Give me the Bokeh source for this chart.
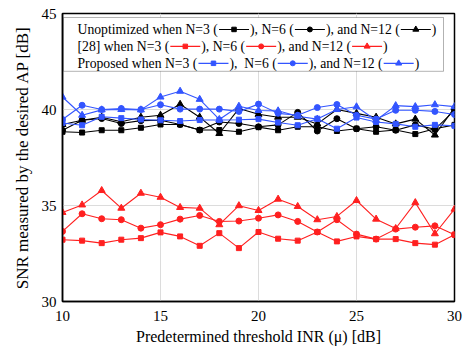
from bokeh.plotting import figure
from bokeh.models import Range1d, Label, BoxAnnotation, FixedTicker
from bokeh.embed import file_html
from bokeh.resources import INLINE

# ---------------- data ----------------
inr_db = list(range(10, 31))

unopt_n3 = [38.84, 38.80, 38.92, 38.92, 39.05, 39.22, 39.22, 38.93, 38.93, 38.84, 39.08,
            38.92, 39.10, 39.10, 38.88, 39.00, 38.84, 38.93, 38.72, 39.00, 39.20]
unopt_n6 = [38.92, 39.44, 39.53, 39.27, 39.42, 39.44, 39.22, 38.93, 39.35, 39.27, 39.10,
            39.20, 39.85, 38.88, 39.52, 39.00, 39.10, 38.92, 39.20, 38.97, 39.95]
unopt_n12 = [39.22, 39.44, 39.60, 39.36, 39.60, 39.70, 40.27, 39.60, 38.75, 40.05, 39.75,
             39.60, 39.60, 39.25, 40.00, 39.80, 39.60, 39.25, 39.50, 38.67, 40.10]

ref28_n3 = [33.22, 33.17, 33.04, 33.22, 33.30, 33.60, 33.39, 32.90, 33.56, 32.78, 33.62,
            33.27, 33.17, 33.62, 33.13, 33.39, 33.25, 33.25, 33.04, 32.96, 33.48]
ref28_n6 = [33.65, 34.57, 34.31, 34.26, 33.82, 34.00, 34.29, 34.48, 34.17, 34.19, 34.34,
            34.51, 34.17, 33.62, 34.26, 33.51, 33.25, 33.77, 33.87, 33.94, 33.48]
ref28_n12 = [34.64, 35.03, 35.78, 34.86, 35.64, 35.43, 34.90, 34.86, 34.00, 34.99, 34.74,
             35.33, 34.95, 34.26, 34.43, 35.26, 34.29, 33.80, 35.15, 33.53, 34.81]

prop_n3 = [39.30, 39.18, 39.62, 39.55, 39.48, 39.44, 39.40, 39.45, 39.45, 39.47, 39.50,
           39.32, 39.18, 39.52, 39.00, 39.58, 39.35, 39.25, 39.10, 39.20, 39.15]
prop_n6 = [39.48, 40.22, 40.00, 40.05, 40.00, 40.25, 40.02, 40.02, 40.02, 39.90, 40.28,
           39.80, 39.70, 40.10, 40.26, 39.70, 39.50, 39.96, 39.96, 39.90, 39.74]
prop_n12 = [40.65, 39.70, 39.98, 40.00, 39.98, 40.65, 40.95, 40.53, 39.48, 40.17, 39.95,
            39.93, 39.65, 39.50, 40.00, 40.14, 39.44, 40.20, 40.15, 40.25, 40.15]

x_ticks = [10, 15, 20, 25, 30]
y_ticks = [30, 35, 40, 45]

legend_rows = [
    ["Unoptimized when N=3 (", "), N=6 (", "), and N=12 (", ")"],
    ["[28] when N=3 (", "), N=6 (", "), and N=12 (", ")"],
    ["Proposed when N=3 (", "),\u00a0 N=6 (", "), and N=12 (", ")"],
]

BLACK = "#000000"
RED = "#ff2020"
BLUE = "#3355ff"
FONT = "Liberation Serif"

# ---------------- figure ----------------
W, H = 466, 347
ML, MR, MT, MB = 62, 12, 13, 45
X0, X1, Y0, Y1 = 10, 30, 30, 45
p = figure(width=W, height=H, output_backend="svg", toolbar_location=None,
           x_range=Range1d(X0, X1), y_range=Range1d(Y0, Y1),
           min_border_left=ML, min_border_right=MR, min_border_top=MT, min_border_bottom=MB)
p.background_fill_color = "white"
p.border_fill_color = "white"
p.outline_line_color = "black"
p.outline_line_width = 1.5
p.outline_line_alpha = 1.0

for ax in (p.xaxis[0], p.yaxis[0]):
    ax.axis_line_color = "black"
    ax.axis_line_width = 1.5
    ax.major_tick_in = 0
    ax.major_tick_out = 0
    ax.minor_tick_in = 0
    ax.minor_tick_out = 0
    ax.major_label_text_font = FONT
    ax.major_label_text_font_size = "15px"
    ax.major_label_text_color = "black"
    ax.axis_label_text_font = FONT
    ax.axis_label_text_font_style = "normal"
    ax.axis_label_text_color = "black"

p.xaxis.axis_label_text_font_size = "16px"
p.yaxis.axis_label_text_font_size = "17px"
p.xaxis.ticker = FixedTicker(ticks=x_ticks)
p.yaxis.ticker = FixedTicker(ticks=y_ticks)
p.xgrid.ticker = FixedTicker(ticks=x_ticks)
p.ygrid.ticker = FixedTicker(ticks=y_ticks)
p.grid.grid_line_color = "#dcdcdc"
p.grid.grid_line_width = 1
p.xaxis.major_label_standoff = 9
p.yaxis.major_label_standoff = 6
p.xaxis.axis_label = "Predetermined threshold INR (\u03bc) [dB]"
p.yaxis.axis_label = "SNR measured by the desired AP [dB]"
p.xaxis.axis_label_standoff = 4
p.yaxis.axis_label_standoff = 7

series = [
    (unopt_n3, BLACK, "square", 5), (unopt_n6, BLACK, "circle", 6), (unopt_n12, BLACK, "triangle", 7),
    (ref28_n3, RED, "square", 5), (ref28_n6, RED, "circle", 6), (ref28_n12, RED, "triangle", 7),
    (prop_n3, BLUE, "square", 5), (prop_n6, BLUE, "circle", 6), (prop_n12, BLUE, "triangle", 7),
]
for ys, col, mk, sz in series:
    p.line(inr_db, ys, line_color=col, line_width=1.1)
    p.scatter(inr_db, ys, marker=mk, size=sz, fill_color=col, line_color=col)

# ---------------- custom legend ----------------
FW = W - ML - MR
FH = H - MT - MB


def px2x(px):  # px measured from frame left
    return X0 + px / FW * (X1 - X0)


def py2y(py):  # py measured from frame top
    return Y1 - py / FH * (Y1 - Y0)


TW = {' ': 250, '\u00a0': 250, '(': 333, ')': 333, ',': 250, '=': 564, '[': 333, ']': 333,
      'N': 722, 'U': 722, 'P': 556, 'a': 444, 'd': 500, 'e': 444, 'h': 500, 'i': 278,
      'm': 778, 'n': 500, 'o': 500, 'p': 500, 'r': 333, 's': 389, 't': 278, 'w': 722, 'z': 444}


def text_w(s, fs):
    return sum(TW.get(c, 500) for c in s) / 1000.0 * fs


LFS = 13.7
box = BoxAnnotation(left=px2x(1), right=px2x(381), top=py2y(4), bottom=py2y(58),
                    fill_color="white", fill_alpha=1.0, line_color="black", line_width=1,
                    level="underlay")
p.add_layout(box)

row_cols = [BLACK, RED, BLUE]
markers = ["square", "circle", "triangle"]
msizes = [4.5, 5, 6]
row_y = [16, 33, 50]
SW = 30
mk_x, mk_y, mk_c, mk_m, mk_s = [], [], [], [], []
for r, parts in enumerate(legend_rows):
    cx = 15.0
    yv = py2y(row_y[r])
    for k, part in enumerate(parts):
        p.add_layout(Label(x=px2x(cx), y=yv, text=part, text_font=FONT,
                           text_font_size=f"{LFS}px", text_baseline="middle",
                           text_align="left", text_color="black"))
        cx += text_w(part, LFS)
        if k < 3:
            a = cx + 1
            b = a + SW
            p.segment(x0=[px2x(a)], y0=[yv], x1=[px2x(b)], y1=[yv],
                      line_color=row_cols[r], line_width=1.1)
            mk_x.append(px2x((a + b) / 2)); mk_y.append(yv)
            mk_c.append(row_cols[r]); mk_m.append(markers[k]); mk_s.append(msizes[k])
            cx = b + 1
p.scatter(x=mk_x, y=mk_y, marker=mk_m, size=mk_s, fill_color=mk_c, line_color=mk_c)

open("out.html", "w").write(file_html(p, INLINE))
